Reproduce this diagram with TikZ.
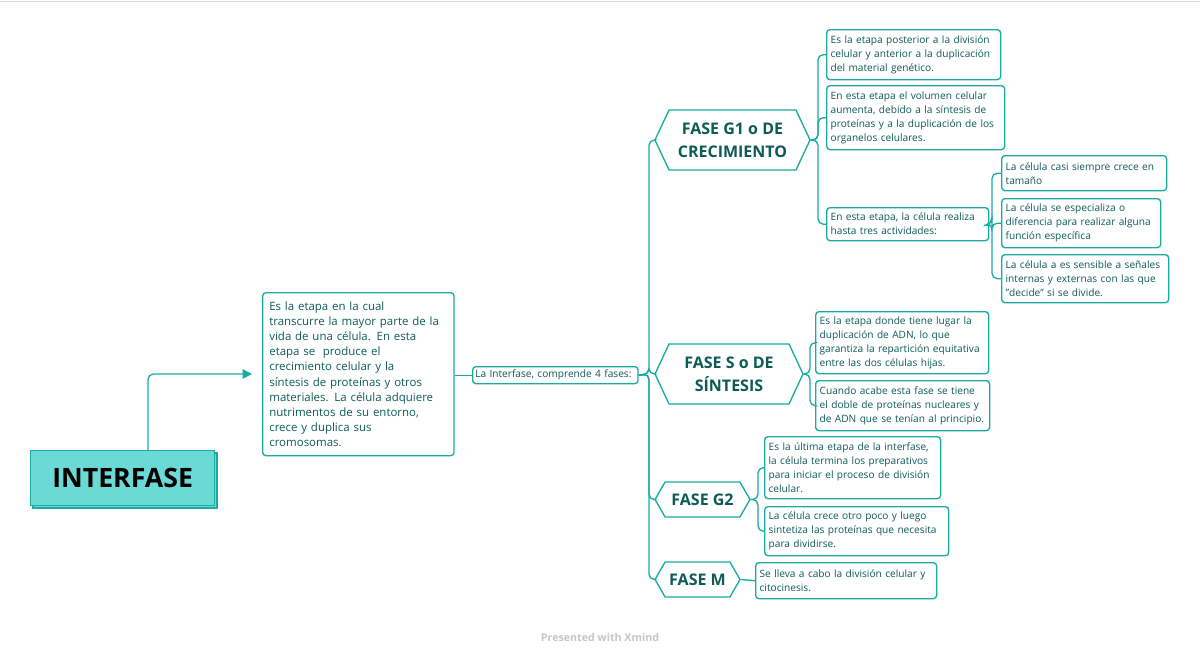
\documentclass[tikz,border=0pt]{standalone}
\usepackage{fontspec}
\setmainfont{Open Sans}
\usetikzlibrary{shapes.symbols,arrows.meta}
\definecolor{ln}{HTML}{1AABA3}
\definecolor{tx}{HTML}{0D5B57}
\definecolor{fl}{HTML}{6BDAD6}
\tikzset{
 box/.style={draw=ln,line width=1pt,rounded corners=2.5pt,anchor=north west,inner sep=3pt,align=left,text=tx,font=\fontsize{7.6}{10.5}\selectfont},
 hexa/.style={draw=ln,line width=1pt,signal,signal to=east and west,inner sep=0pt,text=tx,align=center,font=\bfseries\fontsize{12}{17}\selectfont},
 con/.style={draw=ln,line width=1pt,rounded corners=4pt}
}
\begin{document}
\begin{tikzpicture}[x=0.75pt,y=-0.75pt]
\useasboundingbox (0,0) rectangle (1200,664);
\fill[white] (0,0) rectangle (1200,664);
\draw[gray!30,line width=0.6pt] (0,1) -- (1200,1);
% main
\fill[fl] (33,453) rectangle (217,508);
\draw[ln,line width=1pt] (33,453) rectangle (217,508);
\node[draw=ln,fill=fl,line width=1pt,minimum width=184*0.75pt,minimum height=55*0.75pt,anchor=north west,inner sep=0pt,font=\bfseries\fontsize{20}{24}\selectfont] (main) at (30,450) {INTERFASE};
\node[box,font=\fontsize{8.6}{11.4}\selectfont,text width=178*0.75pt,minimum height=163*0.75pt,inner sep=5pt] (desc) at (262,292) {Es la etapa en la cual\\transcurre la mayor parte de la\\vida de una célula. En esta\\etapa se\ \ produce el\\crecimiento celular y la\\síntesis de proteínas y otros\\materiales. La célula adquiere\\nutrimentos de su entorno,\\crece y duplica sus\\cromosomas.};
\coordinate (arr) at (252,374);
\draw[con,-{Triangle[length=7pt,width=7pt]}] (main.north -| 148,0) |- (arr);
\node[box,text width=160*0.75pt,minimum height=17*0.75pt,inner sep=2pt] (comp) at (472,366) {La Interfase, comprende 4 fases:};
\draw[con] (desc.east |- comp.west) -- (comp.west);
% hexagons
\node[hexa,minimum width=155*0.75pt,minimum height=60*0.75pt,signal pointer angle=130] (g1) at (732.5,140) {FASE G1 o DE\\CRECIMIENTO};
\node[hexa,minimum width=148*0.75pt,minimum height=60*0.75pt,signal pointer angle=130] (s) at (729,374) {FASE S o DE\\SÍNTESIS};
\node[hexa,minimum width=95*0.75pt,minimum height=35*0.75pt,signal pointer angle=120] (g2) at (702.5,499.5) {FASE G2};
\node[hexa,minimum width=85*0.75pt,minimum height=35*0.75pt,signal pointer angle=120] (m) at (697.5,579.5) {FASE M};
\foreach \h in {g1,s,g2,m}{\draw[con] (comp.east) -- (649,374) |- (\h.west);}
% G1 children
\node[box,text width=166*0.75pt,minimum height=50*0.75pt] (b1) at (826,29) {Es la etapa posterior a la división\\celular y anterior a la duplicación\\del material genético.};
\node[box,text width=170*0.75pt,minimum height=64*0.75pt] (b2) at (826,85) {En esta etapa el volumen celular\\aumenta, debido a la síntesis de\\proteínas y a la duplicación de los\\organelos celulares.};
\node[box,text width=154*0.75pt,minimum height=33*0.75pt] (b3) at (826,207) {En esta etapa, la célula realiza\\hasta tres actividades:};
\foreach \b in {b1,b2,b3}{\draw[con] (g1.east) -- (818,140) |- (\b.west);}
\node[box,text width=157*0.75pt,minimum height=35*0.75pt] (c1) at (1001,155) {La célula casi siempre crece en\\tamaño};
\node[box,text width=151*0.75pt,minimum height=49*0.75pt] (c2) at (1001,198) {La célula se especializa o\\diferencia para realizar alguna\\función específica};
\node[box,text width=159*0.75pt,minimum height=48*0.75pt] (c3) at (1001,254) {La célula a es sensible a señales\\internas y externas con las que\\"decide" si se divide.};
\foreach \b in {c1,c2,c3}{\draw[con] (b3.east) -- (992,223.5) |- (\b.west);}
% S children
\node[box,text width=165*0.75pt,minimum height=62*0.75pt] (s1) at (815,311) {Es la etapa donde tiene lugar la\\duplicación de ADN, lo que\\garantiza la repartición equitativa\\entre las dos células hijas.};
\node[box,text width=166*0.75pt,minimum height=50*0.75pt] (s2) at (815,380) {Cuando acabe esta fase se tiene\\el doble de proteínas nucleares y\\de ADN que se tenían al principio.};
\foreach \b in {s1,s2}{\draw[con] (s.east) -- (810,374) |- (\b.west);}
% G2 children
\node[box,text width=168*0.75pt,minimum height=62*0.75pt] (t1) at (764,436) {Es la última etapa de la interfase,\\la célula termina los preparativos\\para iniciar el proceso de división\\celular.};
\node[box,text width=176*0.75pt,minimum height=49*0.75pt] (t2) at (764,506) {La célula crece otro poco y luego\\sintetiza las proteínas que necesita\\para dividirse.};
\foreach \b in {t1,t2}{\draw[con] (g2.east) -- (758,499.5) |- (\b.west);}
% M child
\node[box,text width=173*0.75pt,minimum height=36*0.75pt] (m1) at (755,562) {Se lleva a cabo la división celular y\\citocinesis.};
\draw[con] (m.east) -- (m1.west);
\node[text=gray!45,font=\bfseries\fontsize{8}{9}\selectfont] (pw) at (600,637) {Presented with Xmind};
\end{tikzpicture}
\end{document}
